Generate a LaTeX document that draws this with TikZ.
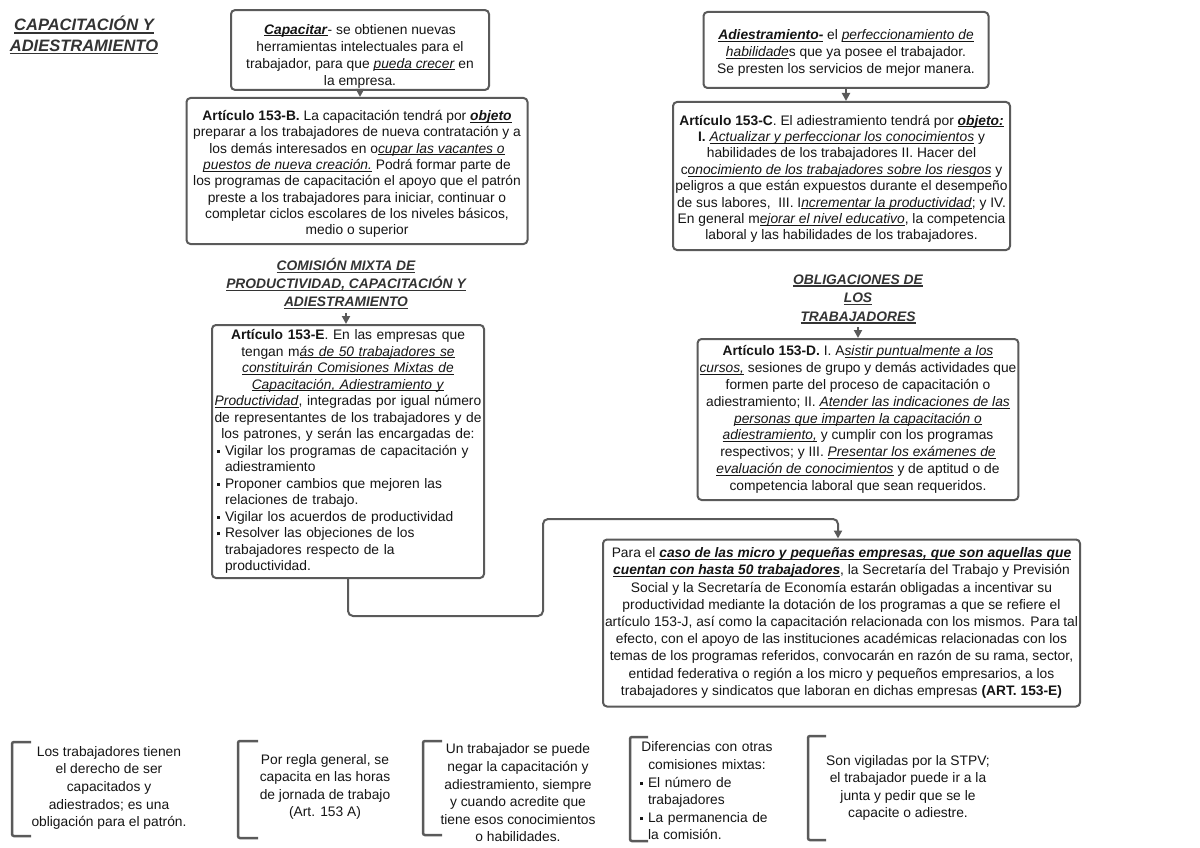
\documentclass[tikz,border=0pt]{standalone}
\usepackage{fontspec}
\setmainfont{Liberation Sans}
\usetikzlibrary{arrows.meta}
\definecolor{bord}{HTML}{5A5A5A}
\definecolor{txt}{HTML}{151515}
\definecolor{ttl}{HTML}{333333}
\newcommand\myul[1]{\leavevmode\setbox0\hbox{#1}\rlap{\rule[-2.2pt]{\wd0}{0.9pt}}\box0\relax}
\newcommand\hul[1]{\leavevmode\setbox0\hbox{#1}\rlap{\rule[-2.6pt]{\wd0}{1.2pt}}\box0\relax}
\newcommand\tul[1]{\leavevmode\setbox0\hbox{#1}\rlap{\rule[-3pt]{\wd0}{1.5pt}}\box0\relax}
\newcommand\ubi[1]{\myul{\textbf{\textit{#1}}}}
\newcommand\ui[1]{\myul{\textit{#1}}}
\newcommand\cl[1]{\noindent\makebox[\linewidth]{#1}\par}
\newcommand\bul{\makebox[8pt][l]{\raisebox{0.3ex}{\rule{3.2pt}{3.2pt}}}}
\newcommand\ind{\hspace*{8pt}}
\newcommand\gap[1]{\rule{0pt}{#1}}
\begin{document}
\begin{tikzpicture}[x=1pt,y=-1pt,
 box/.style={draw=bord, line width=2pt, rounded corners=4pt, align=center, inner sep=2pt, text=txt, font=\fontsize{13.8}{16.8}\selectfont},
 head/.style={align=center, text=ttl, font=\fontsize{13.8}{18}\selectfont\bfseries\itshape},
 arr/.style={draw=bord, line width=2pt, -{Triangle[length=8pt,width=8pt]}},
 brk/.style={draw=bord, line width=2.5pt, rounded corners=2pt},
 note/.style={align=center, text=txt, inner sep=0pt, font=\fontsize{13.8}{17.6}\selectfont}]
\useasboundingbox[fill=white] (0,0) rectangle (1200,848);

\node[align=center, text=ttl, font=\fontsize{16.5}{20.5}\selectfont\bfseries\itshape] (title) at (84,35)
 {\tul{CAPACITACIÓN Y}\\\tul{ADIESTRAMIENTO}};

\node[box, minimum width=258pt, minimum height=76pt, font=\fontsize{13.8}{17}\selectfont] (cap) at (360,50)
 {\gap{22pt}\ubi{Capacitar}- se obtienen nuevas\\
  herramientas intelectuales para el\\
  trabajador, para que \ui{pueda crecer} en\\
  la empresa.};

\node[box, minimum width=341pt, minimum height=146pt, font=\fontsize{13.8}{16.3}\selectfont] (b153) at (357,171)
 {\gap{16pt}\textbf{Artículo 153-B.} La capacitación tendrá por \ubi{objeto}\\
  preparar a los trabajadores de nueva contratación y a\\
  los demás interesados en o\ui{cupar las vacantes o}\\
  \ui{puestos de nueva creación.} Podrá formar parte de\\
  los programas de capacitación el apoyo que el patrón\\
  preste a los trabajadores para iniciar, continuar o\\
  completar ciclos escolares de los niveles básicos,\\
  medio o superior};

\node[box, minimum width=285pt, minimum height=76pt] (adi) at (846,50)
 {\gap{16pt}\ubi{Adiestramiento-} el \ui{perfeccionamiento de}\\
  \ui{habilidade}s que ya posee el trabajador.\\
  Se presten los servicios de mejor manera.};

\node[box, minimum width=337pt, minimum height=148pt, font=\fontsize{13.8}{16.4}\selectfont] (c153) at (841.5,176)
 {\gap{16pt}\textbf{Artículo 153-C}. El adiestramiento tendrá por \ubi{objeto:}\\
  \textbf{I.} \ui{Actualizar y perfeccionar los conocimientos} y\\
  habilidades de los trabajadores II. Hacer del\\
  c\ui{onocimiento de los trabajadores sobre los riesgos} y\\
  peligros a que están expuestos durante el desempeño\\
  de sus labores,\ \ III. I\ui{ncrementar la productividad}; y IV.\\
  En general m\ui{ejorar el nivel educativo}, la competencia\\
  laboral y las habilidades de los trabajadores.};

\node[head] (headE) at (346,284)
 {\hul{COMISIÓN MIXTA DE}\\\hul{PRODUCTIVIDAD, CAPACITACIÓN Y}\\\hul{ADIESTRAMIENTO}};

\node[box, minimum width=272pt, minimum height=253pt, text width=262pt, align=left, font=\fontsize{13.8}{16.5}\selectfont] (e153) at (348,451.5)
 {\cl{\textbf{Artículo 153-E}. En las empresas que}
  \cl{tengan m\ui{ás de 50 trabajadores se}}
  \cl{\ui{constituirán Comisiones Mixtas de}}
  \cl{\ui{Capacitación, Adiestramiento y}}
  \cl{\ui{Productividad}, integradas por igual número}
  \cl{de representantes de los trabajadores y de}
  \cl{los patrones, y serán las encargadas de:}
  \noindent\bul Vigilar los programas de capacitación y\\
  \ind adiestramiento\\
  \bul Proponer cambios que mejoren las\\
  \ind relaciones de trabajo.\\
  \bul Vigilar los acuerdos de productividad\\
  \bul Resolver las objeciones de los\\
  \ind trabajadores respecto de la\\
  \ind productividad.};

\node[head, font=\fontsize{13.8}{18.5}\selectfont\bfseries\itshape] (headD) at (858,299)
 {\hul{OBLIGACIONES DE}\\\hul{LOS}\\\hul{TRABAJADORES}};

\node[box, minimum width=316pt, minimum height=161pt] (d153) at (858,419.5)
 {\textbf{Artículo 153-D.} I. A\ui{sistir puntualmente a los}\\
  \ui{cursos,} sesiones de grupo y demás actividades que\\
  formen parte del proceso de capacitación o\\
  adiestramiento; II. \ui{Atender las indicaciones de las}\\
  \ui{personas que imparten la capacitación o}\\
  \ui{adiestramiento,} y cumplir con los programas\\
  respectivos; y III. \ui{Presentar los exámenes de}\\
  \ui{evaluación de conocimientos} y de aptitud o de\\
  competencia laboral que sean requeridos.};

\node[box, minimum width=477pt, minimum height=167pt, font=\fontsize{13.8}{17.2}\selectfont] (big) at (841.5,623)
 {Para el \ubi{caso de las micro y pequeñas empresas, que son aquellas que}\\
  \ubi{cuentan con hasta 50 trabajadores}, la Secretaría del Trabajo y Previsión\\
  Social y la Secretaría de Economía estarán obligadas a incentivar su\\
  productividad mediante la dotación de los programas a que se refiere el\\
  artículo 153-J, así como la capacitación relacionada con los mismos. Para tal\\
  efecto, con el apoyo de las instituciones académicas relacionadas con los\\
  temas de los programas referidos, convocarán en razón de su rama, sector,\\
  entidad federativa o región a los micro y pequeños empresarios, a los\\
  trabajadores y sindicatos que laboran en dichas empresas \textbf{(ART. 153-E)}};

% connectors
\draw[arr] (cap.south) -- (cap.south |- b153.north);
\draw[arr] (adi.south) -- (adi.south |- c153.north);
\draw[arr] (headE.south) -- (headE.south |- e153.north);
\draw[arr] (headD.south) -- (headD.south |- d153.north);
\coordinate (k1) at (543,519);
\draw[arr, rounded corners=5pt] (e153.south) -- ++(0,37) -| (k1) -| ([xshift=-3.5pt]big.north);

% bottom notes
\draw[brk] (31,742) -- (12,742) -- (12,836) -- (31,836);
\node[note] (n1) at (109,788) {Los trabajadores tienen\\el derecho de ser\\capacitados y\\adiestrados; es una\\obligación para el patrón.};
\draw[brk] (258,741) -- (238,741) -- (238,838) -- (258,838);
\node[note] (n2) at (325,787) {Por regla general, se\\capacita en las horas\\de jornada de trabajo\\(Art. 153 A)};
\draw[brk] (442,741) -- (423,741) -- (423,835) -- (442,835);
\node[note] (n3) at (518,793) {Un trabajador se puede\\negar la capacitación y\\adiestramiento, siempre\\y cuando acredite que\\tiene esos conocimientos\\o habilidades.};
\draw[brk] (648,737) -- (630,737) -- (630,841) -- (648,841);
\node[note, text width=134pt, align=left] (n4) at (707,791)
 {\cl{Diferencias con otras}
  \cl{comisiones mixtas:}
  \noindent\bul El número de\\
  \ind trabajadores\\
  \bul La permanencia de\\
  \ind la comisión.};
\draw[brk] (826,736) -- (808,736) -- (808,840) -- (826,840);
\node[note] (n5) at (908,788) {Son vigiladas por la STPV;\\el trabajador puede ir a la\\junta y pedir que se le\\capacite o adiestre.};
\end{tikzpicture}
\end{document}
